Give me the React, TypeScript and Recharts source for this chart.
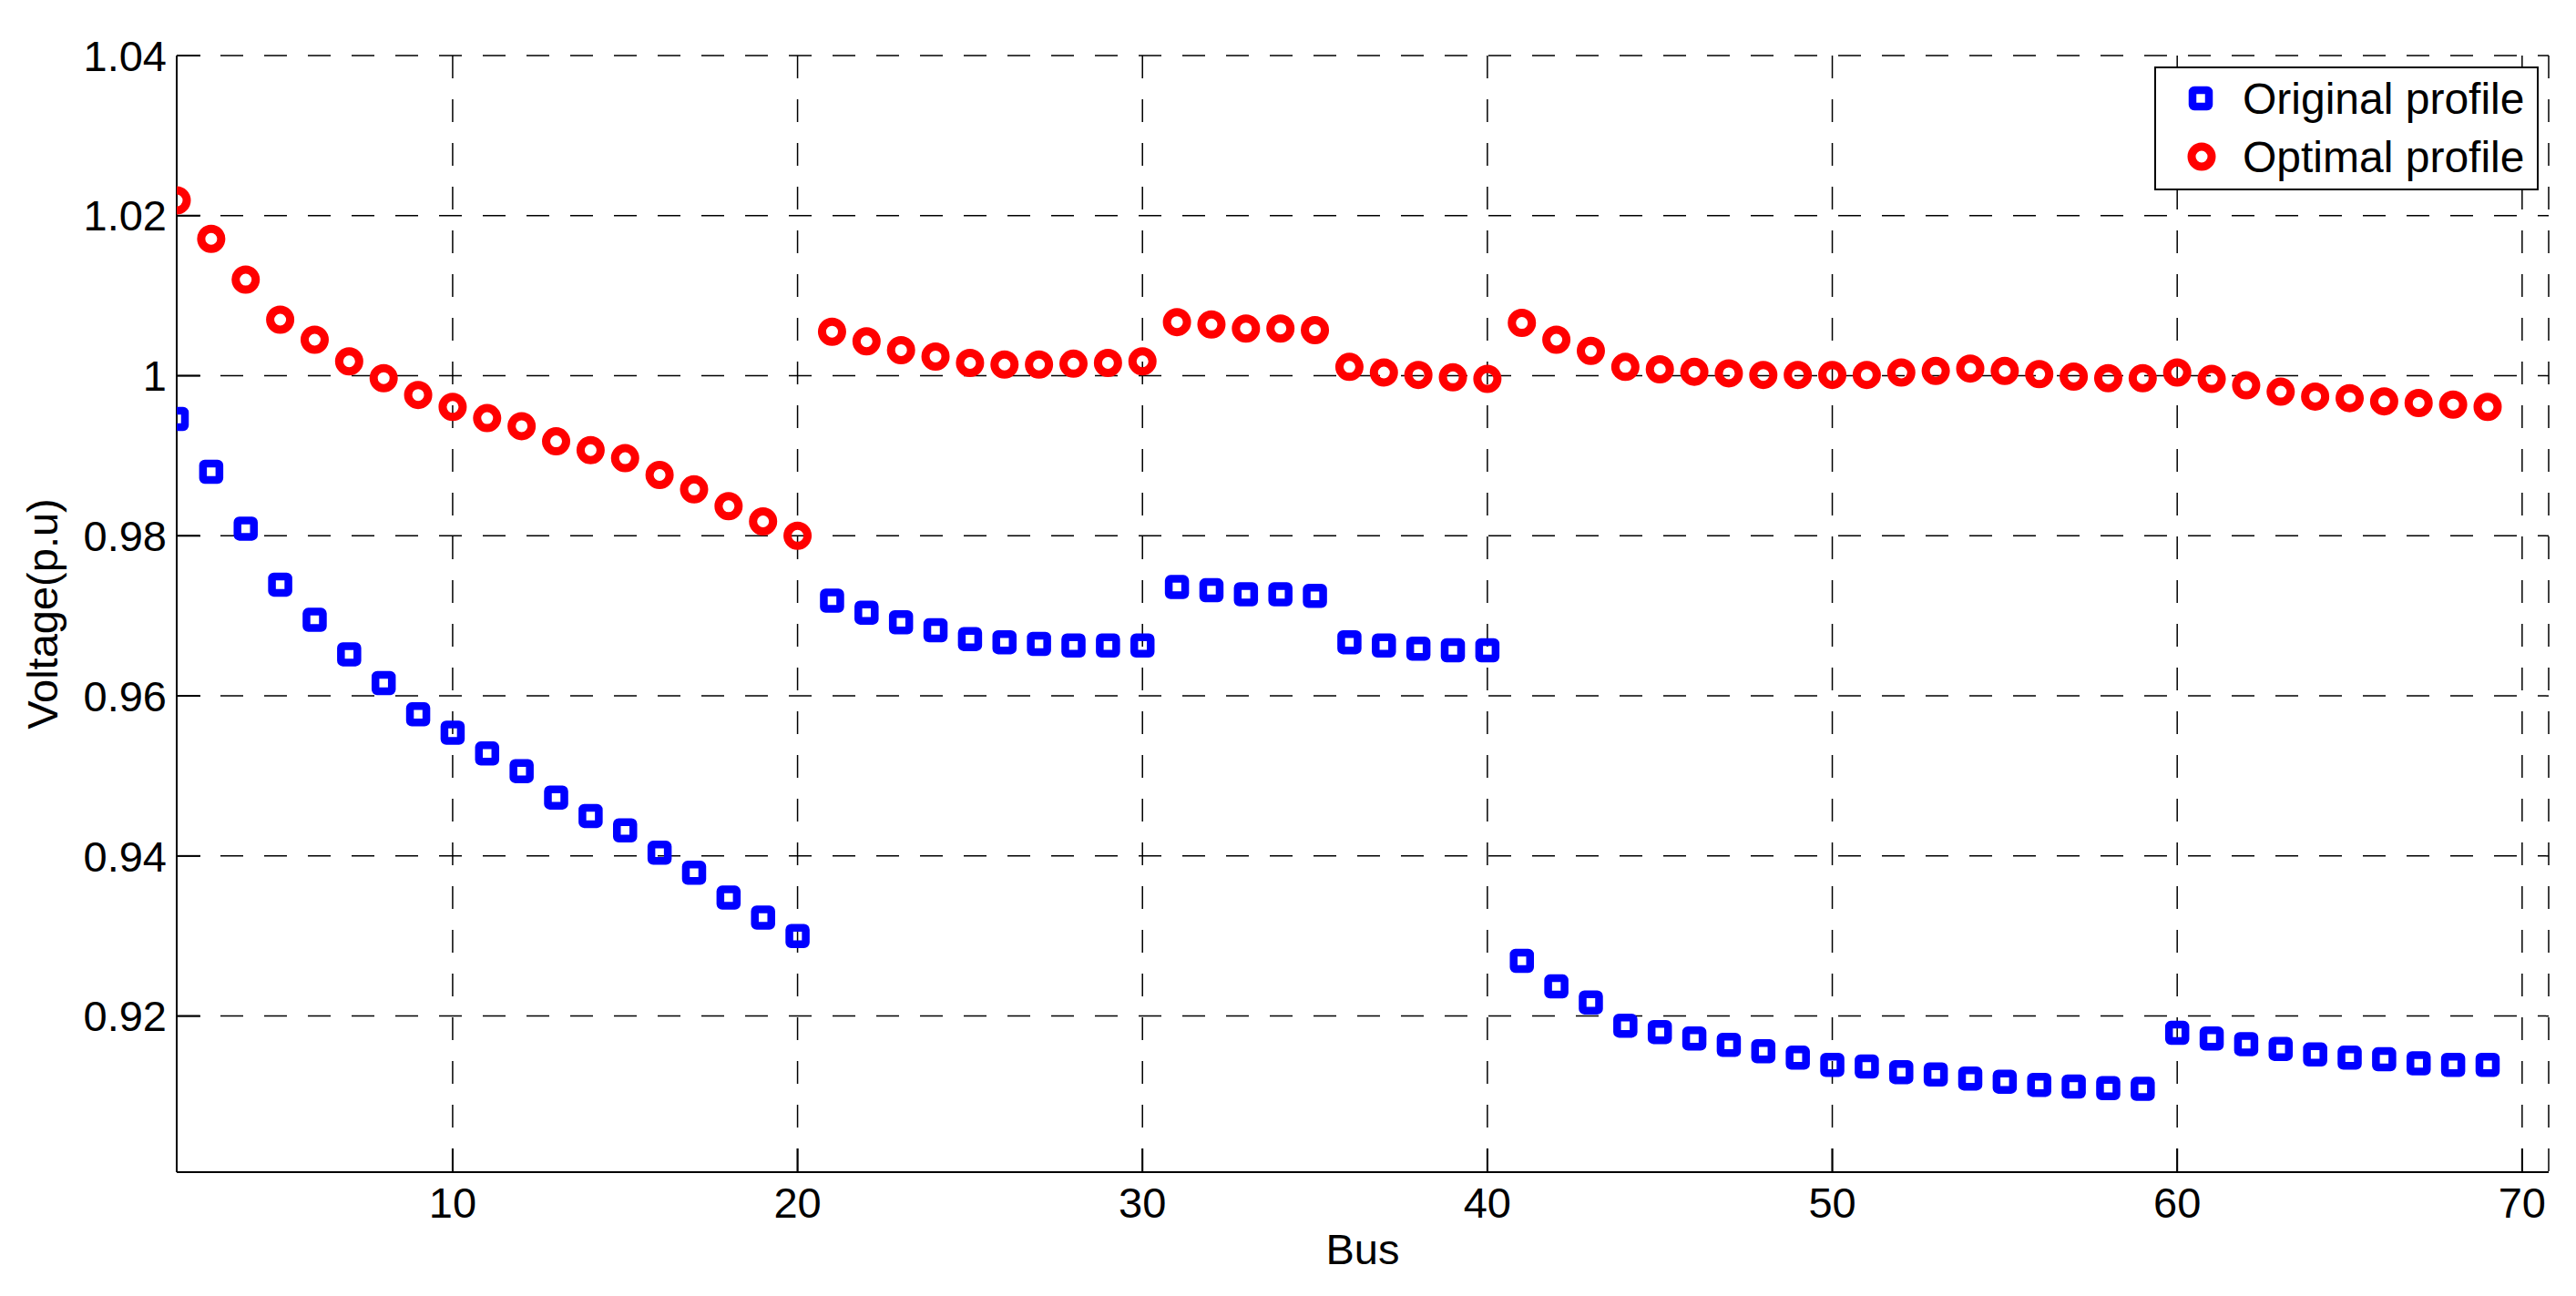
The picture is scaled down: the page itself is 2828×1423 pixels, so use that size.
import { CartesianGrid, Legend, Scatter, ScatterChart, XAxis, YAxis } from "recharts";

const buses = [
  2, 3, 4, 5, 6, 7, 8, 9, 10, 11, 12, 13, 14, 15, 16, 17, 18, 19, 20, 21, 22, 23, 24, 25, 26, 27, 28, 29, 30, 31, 32, 33, 34, 35,
  36, 37, 38, 39, 40, 41, 42, 43, 44, 45, 46, 47, 48, 49, 50, 51, 52, 53, 54, 55, 56, 57, 58, 59, 60, 61, 62, 63, 64, 65, 66, 67, 68, 69,
];

const originalProfile = [
  0.9946, 0.988, 0.9809, 0.9739, 0.9695, 0.9652, 0.9616, 0.9577, 0.9554, 0.9528, 0.9506, 0.9473, 0.945, 0.9432, 0.9404, 0.9379,
  0.9348, 0.9323, 0.93, 0.9719, 0.9704, 0.9692, 0.9682, 0.9671, 0.9667, 0.9665, 0.9663, 0.9663, 0.9663, 0.9736, 0.9732, 0.9727,
  0.9727, 0.9725, 0.9667, 0.9663, 0.9659, 0.9657, 0.9657, 0.9269, 0.9237, 0.9217, 0.9188, 0.918, 0.9172, 0.9164, 0.9156, 0.9148,
  0.9139, 0.9137, 0.913, 0.9127, 0.9122, 0.9118, 0.9114, 0.9112, 0.911, 0.9109, 0.9179, 0.9172, 0.9165, 0.9159, 0.9152, 0.9148,
  0.9146, 0.9141, 0.9139, 0.9139,
];

const optimalProfile = [
  1.0219, 1.0171, 1.012, 1.007, 1.0045, 1.0018, 0.9997, 0.9976, 0.9961, 0.9947, 0.9937, 0.9918, 0.9907, 0.9897, 0.9876, 0.9858,
  0.9837, 0.9818, 0.98, 1.0055, 1.0043, 1.0032, 1.0024, 1.0016, 1.0014, 1.0014, 1.0015, 1.0016, 1.0018, 1.0067, 1.0064, 1.0059,
  1.0059, 1.0057, 1.0011, 1.0004, 1.0001, 0.9998, 0.9996, 1.0066, 1.0045, 1.0031, 1.0011, 1.0008, 1.0005, 1.0003, 1.0001, 1.0001,
  1.0001, 1.0001, 1.0004, 1.0006, 1.0009, 1.0006, 1.0002, 0.9999, 0.9997, 0.9997, 1.0004, 0.9996, 0.9988, 0.998, 0.9974, 0.9972,
  0.9968, 0.9966, 0.9964, 0.9961,
];

const busTicks = [10, 20, 30, 40, 50, 60, 70];
const voltageTicks = [0.92, 0.94, 0.96, 0.98, 1, 1.02, 1.04];
const seriesNames = ["Original profile", "Optimal profile"];

const BLUE = "#0000ff";
const RED = "#ff0000";
const FONT = "'Liberation Sans', Arial, Helvetica, sans-serif";

const originalData = buses.map((bus, i) => ({ bus, voltage: originalProfile[i] }));
const optimalData = buses.map((bus, i) => ({ bus, voltage: optimalProfile[i] }));

function SquareMarker({ cx, cy }: { cx?: number; cy?: number }) {
  if (cx == null || cy == null) return null;
  return (
    <rect
      x={cx - 9}
      y={cy - 9}
      width={18}
      height={18}
      rx={2}
      fill="none"
      stroke={BLUE}
      strokeWidth={8.5}
    />
  );
}

function CircleMarker({ cx, cy }: { cx?: number; cy?: number }) {
  if (cx == null || cy == null) return null;
  return <circle cx={cx} cy={cy} r={11} fill="none" stroke={RED} strokeWidth={9} />;
}

function LegendBox() {
  return (
    <svg width={422} height={136} style={{ display: "block" }}>
      <rect x={1} y={1} width={420} height={134} fill="#fff" stroke="#000" strokeWidth={2} />
      <rect x={42} y={26} width={18} height={18} rx={2} fill="none" stroke={BLUE} strokeWidth={8.5} />
      <circle cx={52} cy={99} r={11} fill="none" stroke={RED} strokeWidth={9} />
      <text x={97} y={52} fontSize={48} fontFamily={FONT} fill="#000">
        {seriesNames[0]}
      </text>
      <text x={97} y={116} fontSize={48} fontFamily={FONT} fill="#000">
        {seriesNames[1]}
      </text>
    </svg>
  );
}

const tickStyle = { fill: "#000", fontSize: 47, fontFamily: FONT };
const lineStyle = { stroke: "#000", strokeWidth: 2 };
// crisp 1px black dashes, like the MATLAB grid
const gridLine = { shapeRendering: "crispEdges" } as any;

export default function App() {
  return (
    <div style={{ position: "absolute", left: 0, top: 0, width: 2828, height: 1423, background: "#fff" }}>
      <ScatterChart width={2828} height={1423} margin={{ top: 61, right: 30, bottom: 76, left: 44 }}>
        <CartesianGrid
          stroke="#000"
          strokeWidth={1.5}
          strokeDasharray="25 23"
          horizontal={gridLine}
          vertical={gridLine}
        />
        <XAxis
          type="number"
          dataKey="bus"
          domain={[2, 70.77]}
          ticks={busTicks}
          allowDataOverflow
          height={60}
          tick={tickStyle}
          tickSize={-26}
          tickMargin={43}
          tickLine={lineStyle}
          axisLine={lineStyle}
          label={{ value: "Bus", position: "bottom", offset: 8, fill: "#000", fontSize: 47, fontFamily: FONT }}
        />
        <XAxis
          xAxisId="top"
          orientation="top"
          type="number"
          dataKey="bus"
          domain={[2, 70.77]}
          ticks={busTicks}
          allowDataOverflow
          height={0}
          tick={false}
          tickSize={-26}
          tickLine={lineStyle}
          axisLine={lineStyle}
        />
        <YAxis
          type="number"
          dataKey="voltage"
          domain={[0.9005, 1.04]}
          ticks={voltageTicks}
          allowDataOverflow
          width={150}
          tick={tickStyle}
          tickFormatter={(v: number) => String(v)}
          tickSize={-26}
          tickMargin={37}
          tickLine={lineStyle}
          axisLine={lineStyle}
          label={{
            value: "Voltage(p.u)",
            angle: -90,
            position: "insideLeft",
            offset: 2,
            fill: "#000",
            fontSize: 47,
            fontFamily: FONT,
            style: { textAnchor: "middle" },
          }}
        />
        <YAxis
          yAxisId="right"
          orientation="right"
          type="number"
          dataKey="voltage"
          domain={[0.9005, 1.04]}
          ticks={voltageTicks}
          allowDataOverflow
          width={0}
          tick={false}
          tickSize={-26}
          tickLine={lineStyle}
          axisLine={lineStyle}
        />
        <Legend
          layout="horizontal"
          verticalAlign="middle"
          align="center"
          content={() => <LegendBox />}
          wrapperStyle={{ left: 2365, top: 73, width: 422, height: 136 }}
        />
        <Scatter
          name={seriesNames[0]}
          data={originalData}
          fill={BLUE}
          shape={(p: any) => <SquareMarker cx={p.cx} cy={p.cy} />}
          isAnimationActive={false}
        />
        <Scatter
          name={seriesNames[1]}
          data={optimalData}
          fill={RED}
          shape={(p: any) => <CircleMarker cx={p.cx} cy={p.cy} />}
          isAnimationActive={false}
        />
      </ScatterChart>
    </div>
  );
}
